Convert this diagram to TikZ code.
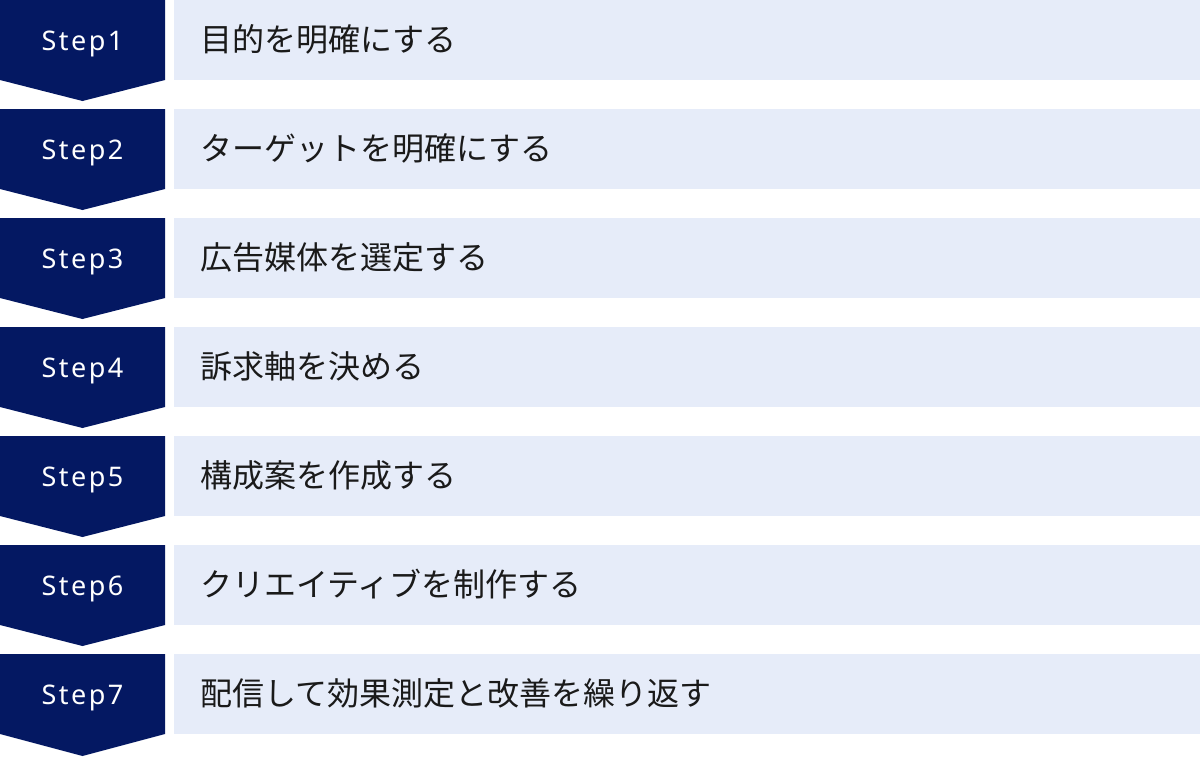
\documentclass[tikz,border=0pt]{standalone}
\usepackage{fontspec}
\setmainfont{Noto Sans}
\newfontfamily\jpfont{Noto Sans CJK JP}
\definecolor{navy}{HTML}{041862}
\definecolor{paleblue}{HTML}{E6ECF9}
\definecolor{ink}{HTML}{1A1A1A}
\begin{document}
\begin{tikzpicture}[x=1pt, y=-1pt,
    step label/.style={anchor=base, text=white, inner sep=0pt,
      font=\fontsize{27}{27}\selectfont\addfontfeature{LetterSpace=9}},
    task label/.style={anchor=base west, text=ink, inner sep=0pt,
      font=\jpfont\fontsize{32}{32}\selectfont}]
      \useasboundingbox (0, 0) rectangle (1200, 756);

      \fill[navy] (0, 0) -- (165, 0) -- (165, 80) -- (82.5, 101) -- (0, 80) -- cycle;
      \fill[paleblue] (174, 0) rectangle (1200, 80);
      \node[step label] (s1) at (82.5, 50) {Step1};
      \node[task label] (t1) at (200, 51.5) {目的を明確にする};

      \fill[navy] (0, 109) -- (165, 109) -- (165, 189) -- (82.5, 210) -- (0, 189) -- cycle;
      \fill[paleblue] (174, 109) rectangle (1200, 189);
      \node[step label] (s2) at (82.5, 159) {Step2};
      \node[task label] (t2) at (200, 160.5) {ターゲットを明確にする};

      \fill[navy] (0, 218) -- (165, 218) -- (165, 298) -- (82.5, 319) -- (0, 298) -- cycle;
      \fill[paleblue] (174, 218) rectangle (1200, 298);
      \node[step label] (s3) at (82.5, 268) {Step3};
      \node[task label] (t3) at (200, 269.5) {広告媒体を選定する};

      \fill[navy] (0, 327) -- (165, 327) -- (165, 407) -- (82.5, 428) -- (0, 407) -- cycle;
      \fill[paleblue] (174, 327) rectangle (1200, 407);
      \node[step label] (s4) at (82.5, 377) {Step4};
      \node[task label] (t4) at (200, 378.5) {訴求軸を決める};

      \fill[navy] (0, 436) -- (165, 436) -- (165, 516) -- (82.5, 537) -- (0, 516) -- cycle;
      \fill[paleblue] (174, 436) rectangle (1200, 516);
      \node[step label] (s5) at (82.5, 486) {Step5};
      \node[task label] (t5) at (200, 487.5) {構成案を作成する};

      \fill[navy] (0, 545) -- (165, 545) -- (165, 625) -- (82.5, 646) -- (0, 625) -- cycle;
      \fill[paleblue] (174, 545) rectangle (1200, 625);
      \node[step label] (s6) at (82.5, 595) {Step6};
      \node[task label] (t6) at (200, 596.5) {クリエイティブを制作する};

      \fill[navy] (0, 654) -- (165, 654) -- (165, 734) -- (82.5, 756) -- (0, 734) -- cycle;
      \fill[paleblue] (174, 654) rectangle (1200, 734);
      \node[step label] (s7) at (82.5, 704) {Step7};
      \node[task label] (t7) at (200, 705.5) {配信して効果測定と改善を繰り返す};
    \end{tikzpicture}
\end{document}
